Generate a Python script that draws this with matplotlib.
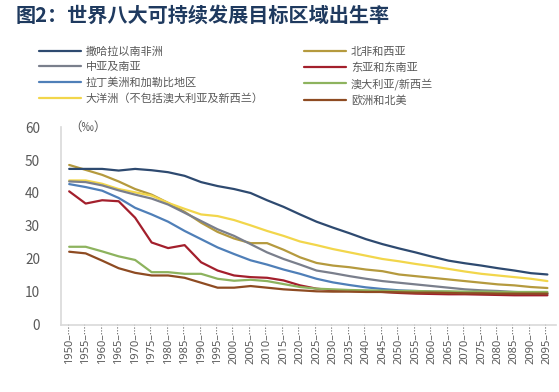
import matplotlib
matplotlib.use("Agg")
import matplotlib.pyplot as plt
import numpy as np

plt.rcParams['font.family'] = ['Noto Sans CJK SC', 'DejaVu Sans']

years = list(range(1950, 2100, 5))

ssa = [47.3, 47.3, 47.3, 46.8, 47.3, 46.9, 46.3, 45.2, 43.3, 42.1, 41.2, 40.0, 37.8, 35.8, 33.5,
       31.3, 29.5, 27.8, 26.0, 24.5, 23.2, 22.0, 20.7, 19.5, 18.7, 18.0, 17.2, 16.5, 15.7, 15.3]
csa = [43.5, 43.3, 42.3, 40.8, 39.5, 38.3, 36.5, 34.0, 31.5, 29.0, 27.0, 24.5, 22.0, 20.0, 18.3,
       16.5, 15.7, 14.8, 14.0, 13.3, 12.8, 12.3, 11.8, 11.3, 10.8, 10.5, 10.3, 10.0, 9.8, 9.7]
lac = [42.7, 41.8, 40.7, 38.5, 35.5, 33.5, 31.3, 28.5, 26.0, 23.5, 21.5, 19.6, 18.3, 16.8, 15.5,
       14.0, 12.9, 12.1, 11.4, 10.9, 10.5, 10.3, 10.1, 10.0, 9.8, 9.6, 9.5, 9.5, 9.4, 9.4]
oce = [43.8, 43.8, 42.8, 41.2, 40.2, 39.2, 37.0, 35.2, 33.5, 33.0, 31.8, 30.2, 28.5, 27.0, 25.3,
       24.2, 23.0, 22.0, 21.0, 20.0, 19.3, 18.5, 17.8, 17.0, 16.2, 15.5, 15.0, 14.5, 14.0, 13.3]
nawa = [48.5, 47.0, 45.5, 43.5, 41.2, 39.5, 37.0, 34.3, 31.0, 28.2, 26.2, 24.8, 24.8, 22.8, 20.5,
        18.8, 18.0, 17.5, 16.8, 16.3, 15.3, 14.8, 14.3, 13.8, 13.3, 12.8, 12.3, 12.0, 11.5, 11.2]
eseas = [40.5, 36.8, 37.8, 37.5, 32.5, 25.0, 23.3, 24.2, 19.0, 16.5, 15.0, 14.5, 14.3, 13.5, 12.0,
         11.0, 10.5, 10.3, 10.2, 10.0, 9.7, 9.5, 9.4, 9.3, 9.3, 9.2, 9.1, 9.0, 9.0, 9.0]
anz = [23.7, 23.7, 22.3, 20.8, 19.7, 16.0, 16.0, 15.5, 15.5, 14.0, 13.4, 13.7, 13.3, 12.4, 11.5,
       11.0, 10.8, 10.6, 10.5, 10.4, 10.3, 10.3, 10.2, 10.2, 10.1, 10.1, 10.0, 10.0, 10.0, 10.0]
euna = [22.2, 21.7, 19.5, 17.2, 15.8, 15.0, 15.0, 14.3, 12.8, 11.3, 11.3, 11.8, 11.3, 10.8, 10.5,
        10.2, 10.1, 10.1, 10.0, 10.0, 9.9, 9.8, 9.8, 9.7, 9.6, 9.6, 9.5, 9.5, 9.5, 9.5]

names = ['撒哈拉以南非洲', '中亚及南亚', '拉丁美洲和加勒比地区', '大洋洲（不包括澳大利亚及新西兰）',
         '北非和西亚', '东亚和东南亚', '澳大利亚/新西兰', '欧洲和北美']
series = [ssa, csa, lac, oce, nawa, eseas, anz, euna]
colors = ['#2E4A70', '#7A7F8C', '#4F7FB8', '#F2D64B', '#B59A3E', '#A31F2C', '#8DB35E', '#8E4B22']

fig = plt.figure(figsize=(5.59, 3.92), dpi=100)
ax = fig.add_axes([0.109, 0.171, 0.885, 0.505])

x = np.arange(len(years))
order = [4, 3, 0, 1, 2, 5, 6, 7]
lines = {}
for i in order:
    ln, = ax.plot(x, series[i], color=colors[i], lw=1.6, label=names[i], solid_capstyle='round')
    lines[i] = ln

ax.set_xlim(-0.5, 29.5)
ax.set_ylim(0, 60)
ax.set_yticks([0, 10, 20, 30, 40, 50, 60])
ax.tick_params(axis='y', length=0, pad=15, labelsize=9.8, labelcolor='#595959')
ax.set_xticks(x)
ax.set_xticklabels([f"{y}–····" for y in years], rotation=90, fontsize=8, color='#595959',
                   family=['Noto Sans', 'DejaVu Sans'])
ax.tick_params(axis='x', length=0, pad=-2.5)
for s in ['top', 'right']:
    ax.spines[s].set_visible(False)
for s in ['left', 'bottom']:
    ax.spines[s].set_color('#D9D9D9')
    ax.spines[s].set_linewidth(1.2)

ax.text(0.0, 60, '（‰）', fontsize=9, color='#595959', va='center', ha='left')

fig.text(0.027, 0.962, '图2：世界八大可持续发展目标区域出生率', fontsize=14.5, fontweight='bold',
         color='#1F3A5F', va='center', ha='left')

handles = [lines[i] for i in range(8)]
leg = fig.legend(handles, names, ncol=2, loc='upper left', bbox_to_anchor=(0.069, 0.88),
                 frameon=False, fontsize=8, handlelength=3.8, handletextpad=0.45,
                 labelspacing=0.45, columnspacing=3.6, borderpad=0, borderaxespad=0)
for t in leg.get_texts():
    t.set_color('#595959')

fig.savefig('out.png', dpi=100)
